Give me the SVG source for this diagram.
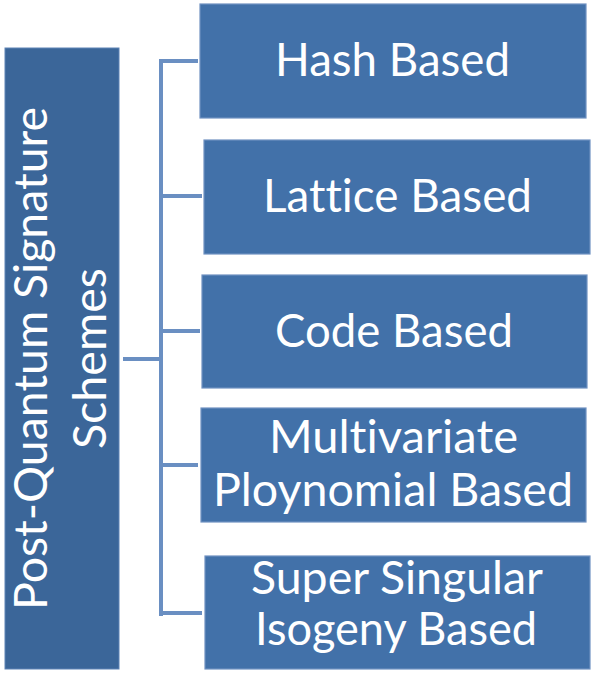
<svg xmlns="http://www.w3.org/2000/svg" width="595" height="675" viewBox="0 0 595 675">
<style>
.box{fill:#4271A9;stroke:#6F91C1;stroke-width:1.2}
.root{fill:#3B6699;stroke:#5F83B5;stroke-width:1}
.t{font-family:Lato,"Open Sans","DejaVu Sans",sans-serif;font-size:47px;fill:#FFFFFF;text-anchor:middle;font-variant-ligatures:none}
.c{stroke:#6A8FC2;stroke-width:4;fill:none;stroke-linecap:square}
</style>
<rect width="595" height="675" fill="#FFFFFF"/>
<g id="connectors">
<path class="c" d="M161 61 V614"/>
<path class="c" d="M161 61 H196"/>
<path class="c" d="M161 196 H200"/>
<path class="c" d="M161 331 H198"/>
<path class="c" d="M161 465 H196"/>
<path class="c" d="M161 613 H200"/>
<path class="c" d="M125 359 H161"/>
</g>
<g id="root">
<rect class="root" x="5" y="48" width="114" height="621"/>
<g transform="translate(0,358.5) rotate(-90)">
<text class="t" x="0" y="47" textLength="503" lengthAdjust="spacingAndGlyphs">Post-Quantum Signature</text>
<text class="t" x="0" y="106" textLength="181" lengthAdjust="spacingAndGlyphs">Schemes</text>
</g>
</g>
<g id="hash">
<rect class="box" x="200" y="4" width="386" height="114"/>
<text class="t" x="392.5" y="76" textLength="235" lengthAdjust="spacingAndGlyphs">Hash Based</text>
</g>
<g id="lattice">
<rect class="box" x="204" y="140" width="386" height="114"/>
<text class="t" x="397.5" y="212" textLength="269" lengthAdjust="spacingAndGlyphs">Lattice Based</text>
</g>
<g id="code">
<rect class="box" x="202" y="275" width="385" height="113"/>
<text class="t" x="394" y="347" textLength="238" lengthAdjust="spacingAndGlyphs">Code Based</text>
</g>
<g id="multivariate">
<rect class="box" x="201" y="408" width="385" height="114"/>
<text class="t" x="393.5" y="453" textLength="249" lengthAdjust="spacingAndGlyphs">Multivariate</text>
<text class="t" x="393" y="506" textLength="360" lengthAdjust="spacingAndGlyphs">Ploynomial Based</text>
</g>
<g id="isogeny">
<rect class="box" x="205" y="556" width="385" height="113"/>
<text class="t" x="397" y="594" textLength="292" lengthAdjust="spacingAndGlyphs">Super Singular</text>
<text class="t" x="396" y="645" textLength="282" lengthAdjust="spacingAndGlyphs">Isogeny Based</text>
</g>
</svg>
